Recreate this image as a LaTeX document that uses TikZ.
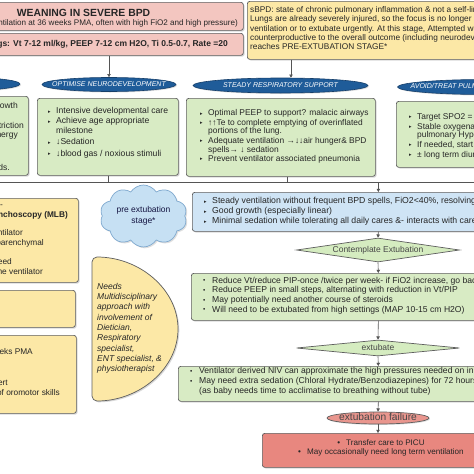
\documentclass[tikz,border=0pt]{standalone}
\usepackage{fontspec}
\setmainfont{Liberation Sans}
\newfontfamily\djv{DejaVu Sans}
\usetikzlibrary{shapes.geometric,shapes.symbols,shadows,arrows.meta,calc}
\definecolor{edgec}{HTML}{5E5E5E}
\definecolor{linec}{HTML}{555555}
\definecolor{pinkf}{HTML}{F3C6C0}
\definecolor{yellowf}{HTML}{FCE8A6}
\definecolor{greenf}{HTML}{D8EBC4}
\definecolor{bluef}{HTML}{CFE4F5}
\definecolor{headf}{HTML}{1F5C99}
\definecolor{headd}{HTML}{163F6A}
\definecolor{cloudf}{HTML}{C6E0F3}
\definecolor{cloudd}{HTML}{7FA9CF}
\definecolor{diamf}{HTML}{D5ECC0}
\definecolor{failf}{HTML}{E9968E}
\definecolor{redf}{HTML}{E8877F}
\definecolor{txtc}{HTML}{262626}
\newcommand{\tri}{\makebox[8pt][l]{\raisebox{0.6pt}{\djv\fontsize{5}{5}\selectfont ▸}}}
\newcommand{\dotb}{\makebox[9pt][l]{\raisebox{0.3pt}{\fontsize{6.5}{6.5}\selectfont •}}}
\newcommand{\ind}{\hspace*{8pt}}
\begin{document}
\begin{tikzpicture}[x=1pt,y=-1pt,
  box/.style={draw=edgec, line width=0.7pt, rounded corners=2.5pt, anchor=north west, inner sep=0pt,
    drop shadow={opacity=0.3,shadow xshift=1.3pt,shadow yshift=-1.3pt}},
  txt/.style={inner sep=0pt, align=left, text=txtc},
  head/.style={ellipse, fill=headf, draw=headd, line width=0.6pt, inner sep=0pt, text height=4.5pt,
    text depth=1pt, text=white, font=\fontsize{7}{7}\selectfont\itshape,
    drop shadow={opacity=0.25,shadow xshift=1pt,shadow yshift=-1pt}},
  arr/.style={draw=linec, line width=0.6pt, -{Triangle[length=3.2pt,width=3.4pt]}},
  conn/.style={draw=linec, line width=0.6pt},
  diam/.style={diamond, fill=diamf, draw=edgec, line width=0.7pt, inner sep=0pt, shape aspect=7,
    text height=5.5pt, text depth=1.5pt, text=txtc!85, font=\fontsize{8.5}{9}\selectfont}]
\useasboundingbox (0,0) rectangle (474,474);
\clip (0,0) rectangle (474,474);
\fill[white] (0,0) rectangle (474,474);

% ---------- top boxes
\node[box, fill=pinkf, minimum width=323pt, minimum height=28pt] (p1) at (-80,2) {};
\node[txt, font=\fontsize{10.4}{12}\selectfont\bfseries] (title) at (83.5,12.5) {WEANING IN SEVERE BPD};
\node[txt, anchor=east, font=\fontsize{8.1}{9}\selectfont] (sub) at (238,23)
  {(Failure to wean from ventilation at 36 weeks PMA, often with high FiO2 and high pressure)};
\node[box, fill=pinkf, minimum width=323pt, minimum height=22pt] (p2) at (-80,33) {};
\node[txt, anchor=east, font=\fontsize{8.5}{9}\selectfont\bfseries] (sett) at (228,44)
  {Usual settings: Vt 7-12 ml/kg, PEEP 7-12 cm H2O, Ti 0.5-0.7, Rate =20};
\node[box, fill=yellowf, minimum width=300pt, minimum height=58pt] (yT) at (247,1) {};
\node[txt, anchor=north west, font=\fontsize{8.3}{9.25}\selectfont] (sbpd) at (250,6.3)
  {sBPD: state of chronic pulmonary inflammation \& not a self-limiting disease.\\
   Lungs are already severely injured, so the focus is no longer on weaning from\\
   ventilation or to extubate urgently. At this stage, Attempted weaning is\\
   counterproductive to the overall outcome (including neurodevelopment) until baby\\
   reaches PRE-EXTUBATION STAGE*};

% ---------- header ellipses
\node[head, minimum width=130pt, minimum height=14pt] (hL) at (-45,84) {\makebox[85pt][c]{OPTIMISE NUTRITION}};
\node[head, minimum width=134pt, minimum height=14pt] (hN) at (109,84.5) {\makebox[90pt][c]{OPTIMISE NEURODEVELOPMENT}};
\node[head, minimum width=175pt, minimum height=15pt] (hS) at (280.5,85.5) {\makebox[120pt][c]{STEADY RESPIRATORY SUPPORT}};
\node[head, minimum width=175pt, minimum height=15pt] (hP) at (485,87) {\makebox[120pt][c]{AVOID/TREAT PULMONARY HYPERTENSION}};

% ---------- green boxes row
\node[box, fill=greenf, minimum width=148pt, minimum height=79pt] (gL) at (-120,96) {};
\node[txt, anchor=east, font=\fontsize{8.5}{10}\selectfont] (gL1) at (18,106) {Optimal growth};
\node[txt, anchor=east, font=\fontsize{8.5}{10}\selectfont] (gL2) at (24,125) {Fluid restriction};
\node[txt, anchor=east, font=\fontsize{8.5}{10}\selectfont] (gL3) at (18,135.5) {High energy};
\node[txt, anchor=east, font=\fontsize{8.5}{10}\selectfont] (gL4) at (10,167) {feeds.};

\node[box, fill=greenf, minimum width=141pt, minimum height=77pt] (gN) at (37,98) {};
\node[txt, anchor=north west, font=\fontsize{8.6}{10}\selectfont] (gNt) at (48,107.5)
  {\tri Intensive developmental care\\
   \tri Achieve age appropriate\\
   \ind milestone\\[0.8pt]
   \tri ↓Sedation\\[1.5pt]
   \tri ↓blood gas / noxious stimuli};

\node[box, fill=greenf, minimum width=189pt, minimum height=78pt] (gS) at (186,98) {};
\node[txt, anchor=north west, font=\fontsize{8.4}{8.8}\selectfont] (gSt) at (200,109.5)
  {\tri Optimal PEEP to support? malacic airways\\[0.6pt]
   \tri ↑↑Te to complete emptying of overinflated\\
   \ind portions of the lung.\\[0.6pt]
   \tri Adequate ventilation →↓↓air hunger\& BPD\\
   \ind spells→ ↓ sedation\\[0.6pt]
   \tri Prevent ventilator associated pneumonia};

\node[box, fill=greenf, minimum width=164pt, minimum height=66pt] (gP) at (396,101) {};
\node[txt, anchor=north west, font=\fontsize{8.4}{8.8}\selectfont] (gPt) at (409,113.5)
  {\tri Target SPO2 = 92-95\%\\[0.8pt]
   \tri Stable oxygenation to prevent\\
   \ind pulmonary Hypertension\\[0.8pt]
   \tri If needed, start sildenafil\\[0.8pt]
   \tri ± long term diuretics};

% ---------- collecting line
\coordinate (hlL) at (-10,182);
\coordinate (hlR) at (484,182);
\coordinate (aS) at (291,0);
\coordinate (tS) at (287,0);
\draw[conn] (hlL) -- (hlR);
\draw[conn] (gN.south) -- (gN.south |- hlL);
\draw[conn] (gS.south -| tS) -- (hlL -| tS);
\draw[conn] (gP.south) -- (gP.south |- hlL);
\draw[conn] (gL.south) -- (gL.south |- hlL);

% ---------- left yellow boxes
\node[box, fill=yellowf, minimum width=198pt, minimum height=84pt] (yA) at (-120,198) {};
\node[txt, anchor=east, font=\fontsize{8.3}{10}\selectfont] (yA0) at (3,205) {Suspect malacia -};
\node[txt, anchor=east, font=\fontsize{8.3}{10}\selectfont\bfseries] (yA1) at (68,215) {Microlaryngobronchoscopy (MLB)};
\node[txt, anchor=east, font=\fontsize{8.3}{10}\selectfont] (yA2) at (23,233) {Tracheostomy \& ventilator};
\node[txt, anchor=east, font=\fontsize{8.3}{10}\selectfont] (yA3) at (44,243) {for severe airway \& parenchymal};
\node[txt, anchor=east, font=\fontsize{8.3}{10}\selectfont] (yA4) at (12,262) {May need};
\node[txt, anchor=east, font=\fontsize{8.3}{10}\selectfont] (yA5) at (43,272) {long term home ventilator};

\node[box, fill=yellowf, minimum width=195pt, minimum height=37pt] (yB) at (-120,290) {};

\node[box, fill=yellowf, minimum width=196pt, minimum height=78pt] (yC) at (-120,335) {};
\node[txt, anchor=east, font=\fontsize{8.3}{10}\selectfont] (yC1) at (33,352) {44-46 weeks PMA};
\node[txt, anchor=east, font=\fontsize{8.3}{10}\selectfont] (yC2) at (8,383) {Feeding expert};
\node[txt, anchor=east, font=\fontsize{8.3}{10}\selectfont] (yC3) at (60,393) {Assessment of oromotor skills};

% ---------- multidisciplinary half disc
\path[draw=edgec, fill=yellowf, line width=0.7pt, rounded corners=5pt,
  drop shadow={opacity=0.3,shadow xshift=1.3pt,shadow yshift=-1.3pt}]
  (92,257) arc[start angle=-90, end angle=90, x radius=86, y radius=72] -- cycle;
\node[txt, anchor=north west, font=\fontsize{8.5}{10.3}\selectfont\itshape] (multi) at (97,283)
  {Needs\\ Multidisciplinary\\ approach with\\ involvement of\\ Dietician,\\ Respiratory\\ specialist,\\ ENT specialist, \&\\ physiotherapist};

% ---------- cloud
\node[cloud, cloud puffs=10, cloud puff arc=115, cloud ignores aspect, fill=cloudf, draw=cloudd,
  line width=0.7pt, inner sep=0pt, minimum width=87pt, minimum height=62pt, align=center,
  text=txtc!75!blue!70!black, font=\fontsize{8.5}{11}\selectfont,
  drop shadow={opacity=0.25,shadow xshift=1.3pt,shadow yshift=-1.3pt}] (cl) at (143.5,216)
  {pre extubation\\ stage*};

% ---------- right flow
\node[box, fill=bluef, minimum width=372pt, minimum height=39pt] (bB) at (192,192) {};
\node[txt, anchor=north west, font=\fontsize{8.7}{10}\selectfont] (bBt) at (204,197.3)
  {\tri Steady ventilation without frequent BPD spells, FiO2<40\%, resolving pulmonary hypertension\\
   \tri Good growth (especially linear)\\
   \tri Minimal sedation while tolerating all daily cares \&- interacts with carers};

\node[diam, minimum width=163pt, minimum height=24pt] (dC) at (378,250) {Contemplate Extubation};

\node[box, fill=greenf, minimum width=374pt, minimum height=47pt] (gR) at (191,273) {};
\node[txt, anchor=north west, font=\fontsize{8.6}{9.6}\selectfont] (gRt) at (203,276.8)
  {\dotb Reduce Vt/reduce PIP-once /twice per week- if FiO2 increase, go back to previous settings\\
   \dotb Reduce PEEP in small steps, alternating with reduction in Vt/PIP\\
   \dotb May potentially need another course of steroids\\
   \dotb Will need to be extubated from high settings (MAP 10-15 cm H2O)};

\node[diam, minimum width=163pt, minimum height=16pt] (dE) at (378,348) {extubate};

\node[box, fill=greenf, minimum width=400pt, minimum height=35pt] (gV) at (178,366) {};
\node[txt, anchor=north west, font=\fontsize{8.6}{10}\selectfont] (gVt) at (190,367.3)
  {\dotb Ventilator derived NIV can approximate the high pressures needed on initial extubation\\
   \dotb May need extra sedation (Chloral Hydrate/Benzodiazepines) for 72 hours\\
   \hspace*{9pt}(as baby needs time to acclimatise to breathing without tube)};

\node[ellipse, fill=failf, draw=edgec, line width=0.7pt, inner sep=0pt, minimum width=102pt,
  minimum height=12pt, text height=6.5pt, text depth=1pt, text=txtc!85,
  font=\fontsize{10.2}{11}\selectfont,
  drop shadow={opacity=0.25,shadow xshift=1pt,shadow yshift=-1pt}] (eF) at (378,418)
  {\makebox[66pt][c]{extubation failure}};

\node[box, fill=redf, minimum width=248pt, minimum height=34pt] (rB) at (262,433) {};
\node[txt, align=center, font=\fontsize{8.1}{9}\selectfont] (rBt) at (381,447.5)
  {•\hspace{6pt}Transfer care to PICU\\ •\hspace{6pt}May occasionally need long term ventilation};

% ---------- arrows
\draw[arr] (hN.north |- p2.south) -- (hN.north);
\draw[arr] (yT.south -| aS) -- (aS |- hS.north);
\draw[arr] (bB.north |- hlL) -- (bB.north);
\draw[arr] (bB.south) -- (dC.north);
\draw[arr] (dC.south) -- (gR.north);
\draw[arr] (gR.south) -- (dE.north);
\draw[arr] (dE.south) -- (gV.north);
\draw[arr] (gV.south) -- (eF.north);
\draw[arr] (eF.south) -- (eF.south |- rB.north);
\end{tikzpicture}
\end{document}
